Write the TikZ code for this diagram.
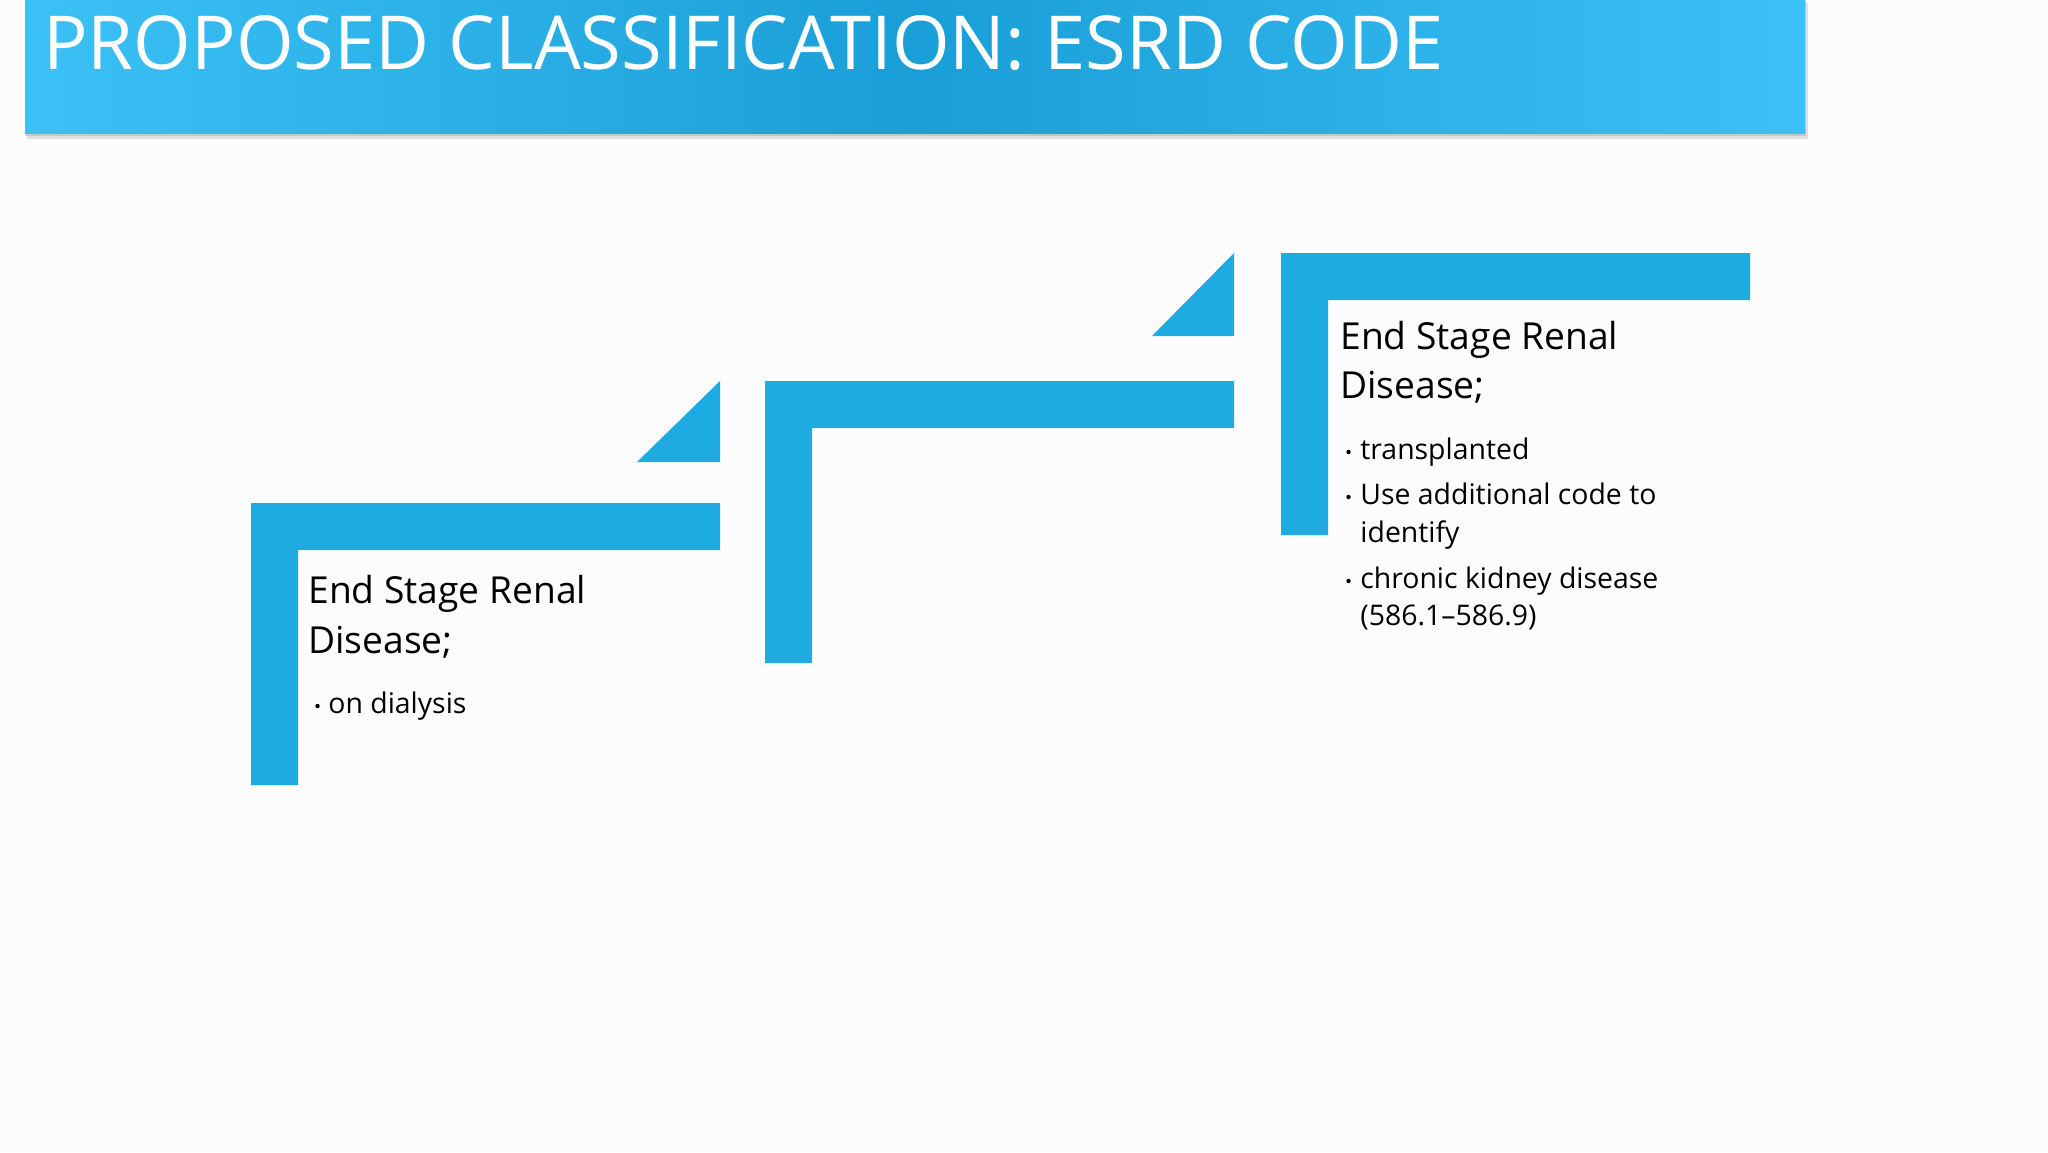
\documentclass[tikz,border=0pt]{standalone}
\usepackage{fontspec}
\setmainfont{Open Sans}
\usepackage{graphicx}
\definecolor{blu}{HTML}{1DABE2}
\definecolor{barlight}{HTML}{3BC1F6}
\definecolor{bardark}{HTML}{1A9ED7}
\definecolor{bg}{HTML}{FCFCFC}
\tikzset{
  lshape/.style={fill=blu},
  head/.style={anchor=base west, inner sep=0pt, font=\fontsize{18.6}{22}\selectfont, text=black},
  item/.style={anchor=base west, inner sep=0pt, font=\fontsize{14.2}{17}\selectfont, text=black},
  bul/.style={circle, fill=black, inner sep=0pt, minimum size=2.2pt}
}
\begin{document}
\begin{tikzpicture}[x=0.5pt,y=-0.5pt]
\useasboundingbox (0,0) rectangle (2048,1152);
\fill[bg] (0,0) rectangle (2048,1152);
% title bar with shadow
\fill[black!12] (27,3) rectangle (1808,139);
\fill[black!22] (26,2) rectangle (1806,136);
\shade[left color=barlight, right color=barlight, middle color=bardark] (25,0) rectangle (1805,133);
\node[anchor=base west, inner sep=0pt, text=white] (title) at (43,69)
  {\resizebox{700pt}{27pt}{\fontsize{38}{40}\selectfont PROPOSED CLASSIFICATION: ESRD CODE}};
% left step
\fill[lshape] (251,503) -- (720,503) -- (720,550) -- (298,550) -- (298,785) -- (251,785) -- cycle;
\fill[lshape] (637,462) -- (720,381) -- (720,462) -- cycle;
% middle step
\fill[lshape] (765,381) -- (1234,381) -- (1234,428) -- (812,428) -- (812,663) -- (765,663) -- cycle;
\fill[lshape] (1152,336) -- (1234,253) -- (1234,336) -- cycle;
% right step
\fill[lshape] (1281,253) -- (1750,253) -- (1750,300) -- (1328,300) -- (1328,535) -- (1281,535) -- cycle;
% left text
\node[head] (l1) at (308,603) {End Stage Renal};
\node[head] (l2) at (308,653) {Disease;};
\node[bul] (lb1) at (317.5,706) {};
\node[item] (lt1) at (328,713) {on dialysis};
% right text
\node[head] (r1) at (1340,349) {End Stage Renal};
\node[head] (r2) at (1340,398) {Disease;};
\node[bul] (rb1) at (1348.5,452) {};
\node[item] (rt1) at (1360,459) {transplanted};
\node[bul] (rb2) at (1348.5,497) {};
\node[item] (rt2) at (1360,504) {Use additional code to};
\node[item] (rt2b) at (1360,542) {identify};
\node[bul] (rb3) at (1348.5,581) {};
\node[item] (rt3) at (1360,588) {chronic kidney disease};
\node[item] (rt3b) at (1360,625) {(586.1–586.9)};
\end{tikzpicture}
\end{document}
